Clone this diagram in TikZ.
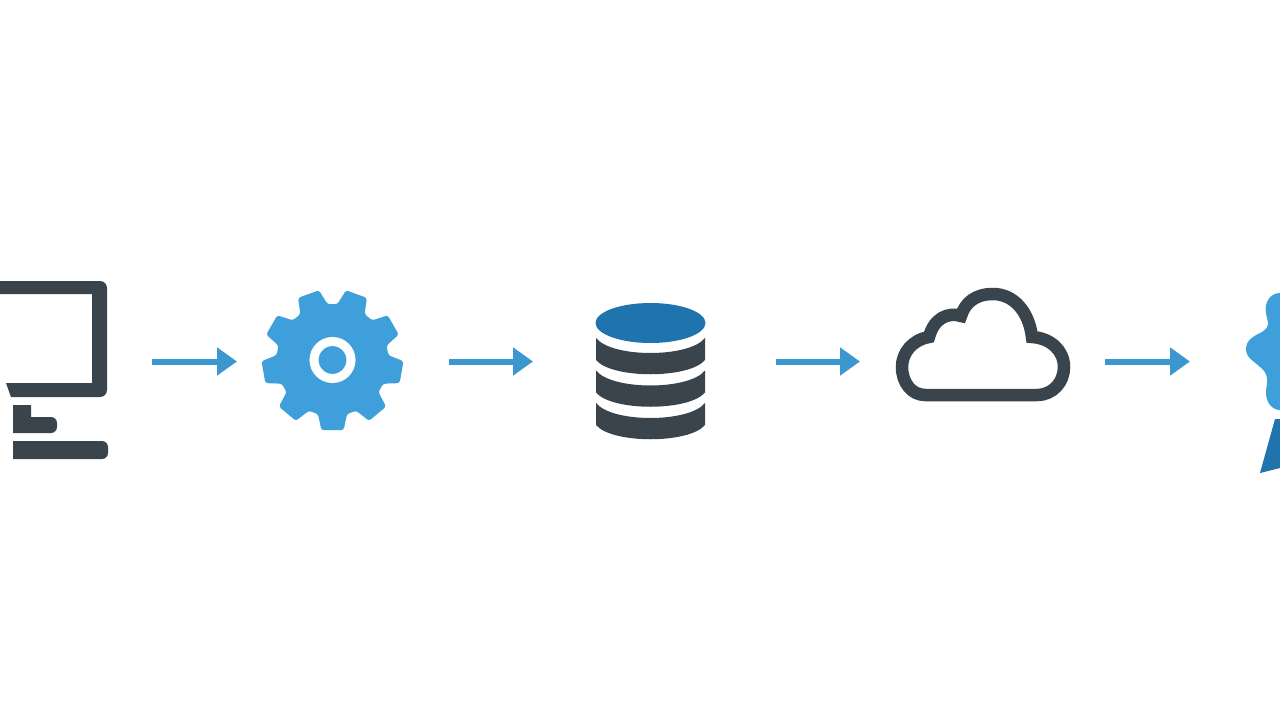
\documentclass[tikz,border=0pt]{standalone}
\usepackage{tikz}
\usetikzlibrary{arrows.meta}
\definecolor{slate}{HTML}{3A444D}
\definecolor{sky}{HTML}{3F9FDB}
\definecolor{deep}{HTML}{1F74AD}
\definecolor{flowblue}{HTML}{3D97CF}
\tikzset{
  slot/.style={inner sep=0pt,outer sep=0pt,minimum height=10pt},
  flow/.style={flowblue,line width=6pt,-{Triangle[length=20pt,width=27pt]}}
}
\begin{document}
\begin{tikzpicture}[x=1pt,y=-1pt]
      \useasboundingbox (0,0) rectangle (1280,720);
      \clip (0,0) rectangle (1280,720);
      \fill[white] (0,0) rectangle (1280,720);
      \node[slot,minimum width=204pt] (screen) at (50,361.5) {};
      \node[slot,minimum width=212pt] (gear) at (343,361.5) {};
      \node[slot,minimum width=243pt] (stack) at (654.5,361.5) {};
      \node[slot,minimum width=245pt] (cloud) at (982.5,361.5) {};
      \node[slot,minimum width=200pt] (badge) at (1290,361.5) {};
      \draw[flow] (screen) -- (gear);
      \draw[flow] (gear) -- (stack);
      \draw[flow] (stack) -- (cloud);
      \draw[flow] (cloud) -- (badge);
      \fill[slate] (0,281) -- (100,281) arc (-90:0:7) -- (107,390) arc (0:90:7) -- (11,397) -- (6,383) -- (92,383) -- (92,294) -- (0,294) -- cycle;
      \fill[slate] (13,405) -- (31,405) -- (31,417) -- (51,417) arc (-90:0:6) -- (57,427) arc (0:90:6) -- (13,433) -- cycle;
      \fill[slate] (13,441) -- (102,441) arc (-90:0:6) -- (108,453) arc (0:90:6) -- (13,459) -- cycle;
      \begin{scope}[shift={(332.5,360)}]
        \fill[sky,rounded corners=2.5pt] (81:71)
          foreach \t in {90,130,...,410} { -- (\t-9:71) -- (\t+9:71) -- (\t+15:56) -- (\t+25:56) } -- cycle;
        \draw[white,line width=9pt] (0,0) circle (18.5);
      \end{scope}
      \fill[deep] (650.5,323) ellipse (55 and 20);
      \foreach \dy in {0,32.5,65} {
        \fill[slate] (596,338+\dy) .. controls (612,358+\dy) and (689,358+\dy) .. (705,338+\dy) -- (705,360+\dy) .. controls (689,379+\dy) and (612,379+\dy) .. (596,360+\dy) -- cycle;
      }
      \draw[slate,line width=12.5pt] (925,395) -- (1037,395) .. controls (1053,395) and (1064,382) .. (1064,367) .. controls (1064,350) and (1050,338) .. (1032,337) .. controls (1029,312) and (1014,294) .. (993,294) .. controls (975,294) and (965,303) .. (961,316) .. controls (948,312) and (934,318) .. (929,337) .. controls (912,340) and (902,353) .. (902,367) .. controls (902,383) and (912,395) .. (925,395) -- cycle;
      \fill[sky] (1290,293) -- (1280,293) .. controls (1270,293) and (1264,303) .. (1266,313) .. controls (1267,322) and (1272,325) .. (1262,332) .. controls (1254,336) and (1246,340) .. (1246,349) .. controls (1246,358) and (1254,361) .. (1260,367) .. controls (1268,373) and (1268,380) .. (1266,390) .. controls (1265,402) and (1272,410) .. (1280,410) -- (1290,410) -- cycle;
      \fill[deep] (1275,419) -- (1260,473) -- (1280,468) -- (1290,468) -- (1290,419) -- cycle;
    \end{tikzpicture}
\end{document}
